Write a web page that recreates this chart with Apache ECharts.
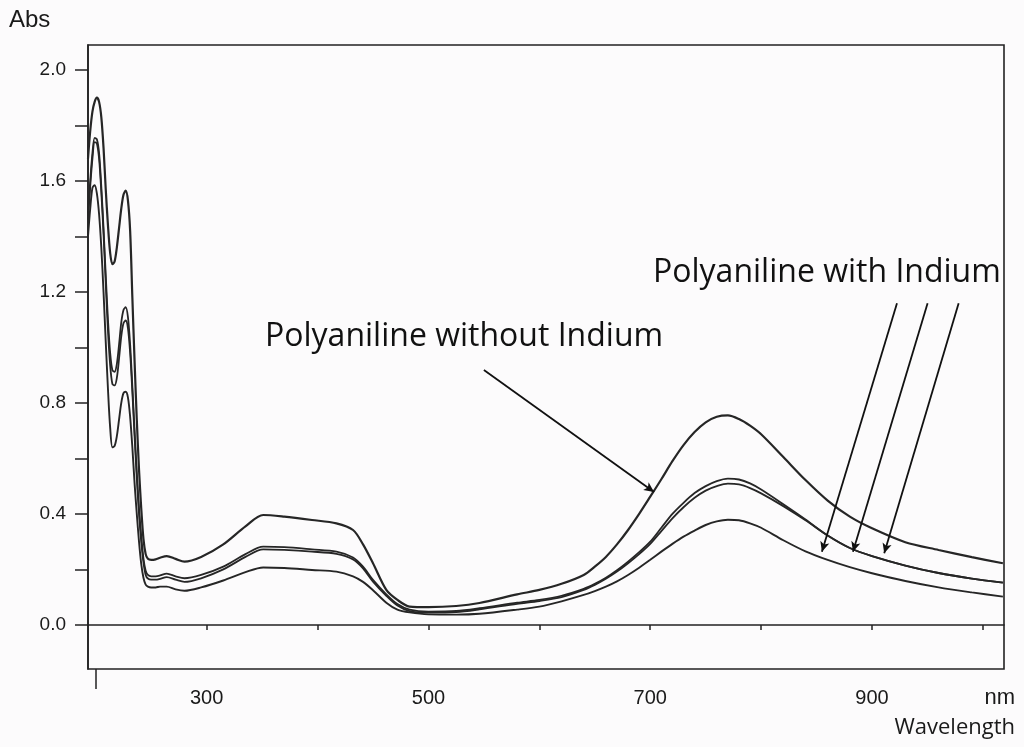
<!DOCTYPE html>
<html>
<head>
<meta charset="utf-8">
<script src="https://cdn.jsdelivr.net/npm/echarts@6/dist/echarts.min.js"></script>
<style>
html,body{margin:0;padding:0;background:#fcfbfc;}
#c{width:1024px;height:747px;}
</style>
</head>
<body>
<div id="c"></div>
<script>
// Wavelength (nm) sample points
const wavelength = [193,195,197,199,201,203,205,207,209,211,213,215,217,219,221,223,225,227,229,231,233,235,237,239,241,243,245,247,250,254,258,264,272,280,295,315,335,351,370,395,417,432,441,450,462,472,483,500,525,546,580,600,620,640,650,660,670,680,690,700,710,720,730,740,750,760,770,780,790,800,820,840,860,880,900,930,960,990,1018];

// Absorbance curves
const seriesA = [1.68,1.78,1.85,1.885,1.90,1.885,1.83,1.72,1.57,1.44,1.34,1.30,1.31,1.36,1.43,1.50,1.55,1.565,1.53,1.42,1.18,0.95,0.74,0.56,0.42,0.31,0.255,0.238,0.234,0.236,0.242,0.248,0.238,0.228,
  0.245,0.29,0.355,0.396,0.39,0.378,0.366,0.342,0.29,0.222,0.126,0.09,0.066,0.064,0.068,0.079,0.11,
  0.126,0.148,0.18,0.21,0.245,0.29,0.342,0.40,0.462,0.525,0.59,0.648,0.695,0.73,0.75,0.755,0.742,0.718,0.687,0.605,0.522,0.448,0.39,0.348,0.298,0.27,0.244,0.222];
const seriesB = [1.48,1.60,1.70,1.755,1.75,1.70,1.58,1.43,1.26,1.10,0.98,0.918,0.912,0.94,1.01,1.09,1.135,1.145,1.11,1.01,0.86,0.70,0.55,0.42,0.32,0.24,0.195,0.18,0.175,0.175,0.178,0.185,0.175,0.168,
  0.18,0.21,0.255,0.282,0.28,0.272,0.264,0.243,0.21,0.162,0.11,0.075,0.055,0.048,0.05,0.06,0.08,
  0.09,0.105,0.13,0.148,0.17,0.197,0.228,0.262,0.30,0.35,0.40,0.44,0.475,0.50,0.518,0.527,0.524,0.51,0.488,0.435,0.38,0.322,0.277,0.248,0.214,0.187,0.167,0.152];
const seriesC = [1.46,1.58,1.68,1.74,1.735,1.68,1.56,1.41,1.23,1.06,0.935,0.868,0.863,0.89,0.96,1.04,1.087,1.097,1.07,0.98,0.84,0.68,0.53,0.40,0.30,0.225,0.18,0.167,0.163,0.163,0.166,0.172,0.163,0.155,
  0.168,0.20,0.245,0.272,0.27,0.264,0.256,0.236,0.204,0.156,0.105,0.07,0.05,0.044,0.046,0.056,0.076,
  0.086,0.1,0.126,0.144,0.166,0.192,0.222,0.255,0.292,0.338,0.384,0.424,0.458,0.484,0.50,0.509,0.506,0.493,0.474,0.428,0.377,0.322,0.277,0.248,0.214,0.187,0.167,0.152];
const seriesD = [1.40,1.50,1.575,1.585,1.555,1.48,1.36,1.20,1.02,0.85,0.71,0.64,0.645,0.68,0.74,0.80,0.835,0.84,0.82,0.75,0.64,0.51,0.40,0.30,0.22,0.17,0.145,0.138,0.135,0.135,0.138,0.138,0.128,0.123,
  0.135,0.16,0.19,0.207,0.205,0.198,0.192,0.175,0.155,0.125,0.08,0.055,0.045,0.038,0.037,0.04,0.055,
  0.066,0.085,0.108,0.122,0.138,0.157,0.18,0.206,0.235,0.264,0.292,0.318,0.34,0.36,0.373,0.379,0.377,0.366,0.35,0.305,0.265,0.234,0.208,0.186,0.158,0.135,0.117,0.102];

// Axis ticks / labels
const yTickValues = [0,0.2,0.4,0.6,0.8,1.0,1.2,1.4,1.6,1.8,2.0];
const yLabelValues = [0,0.4,0.8,1.2,1.6,2.0];
const xTickValues = [300,400,500,600,700,800,900,1000];
const xLabelValues = [300,500,700,900];
const xLongTick = [200];

// Annotation arrows in data coordinates [from, to]
const arrowWithout = [[550,0.919],[703.4,0.479]];
const arrowsWith = [
  [[922.5,1.159],[854.8,0.264]],
  [[950.1,1.159],[882.8,0.264]],
  [[978.1,1.159],[911.0,0.258]]
];

const chart = echarts.init(document.getElementById('c'), null, {renderer:'canvas'});
const lineColor = '#262626';
function mk(vals, w){
  return {
    type:'line', showSymbol:false, symbol:'none', smooth:0.3,
    data: wavelength.map((x,i)=>[x, vals[i]]),
    lineStyle:{color:lineColor, width:w},
    animation:false, silent:true
  };
}
const sA = mk(seriesA, 2.2);
const allArrows = [arrowWithout].concat(arrowsWith).map(a=>[{coord:a[0]},{coord:a[1]}]);
sA.markLine = {
  silent:true, animation:false,
  symbol:['none','arrow'], symbolSize:[7,10],
  label:{show:false},
  lineStyle:{color:'#111', width:1.8, type:'solid'},
  data: allArrows
};

const X_MIN = 193, X_MAX = 1019, Y_MIN = -0.159, Y_MAX = 2.09;

chart.setOption({
  backgroundColor:'#fcfbfc',
  animation:false,
  grid:{left:88, right:20, top:45, bottom:78, show:true, borderColor:'#222', borderWidth:1.6, backgroundColor:'transparent'},
  xAxis:[{
    type:'value', min:X_MIN, max:X_MAX,
    axisLine:{show:true, lineStyle:{color:'#222', width:1.6}},
    axisTick:{show:true, customValues:xTickValues, length:5, lineStyle:{color:'#222', width:1.5}},
    axisLabel:{show:true, customValues:xLabelValues, margin:19, color:'#1a1a1a', fontSize:20, fontFamily:"'Liberation Sans Narrow','Liberation Sans',sans-serif"},
    splitLine:{show:false}
  },{
    type:'value', min:X_MIN, max:X_MAX, position:'bottom',
    axisLine:{show:false},
    axisTick:{show:true, customValues:xLongTick, length:20, lineStyle:{color:'#222', width:1.5}},
    axisLabel:{show:false},
    splitLine:{show:false}
  }],
  yAxis:{
    type:'value', min:Y_MIN, max:Y_MAX,
    axisLine:{show:true, lineStyle:{color:'#222', width:1.6}},
    axisTick:{show:true, customValues:yTickValues, length:13, lineStyle:{color:'#222', width:1.5}},
    axisLabel:{show:true, customValues:yLabelValues, margin:22, color:'#1a1a1a', fontSize:19, fontFamily:"'Liberation Sans',sans-serif", formatter:v=>v.toFixed(1)},
    splitLine:{show:false}
  },
  series:[sA, mk(seriesB,1.8), mk(seriesC,1.8), mk(seriesD,1.9)],
  graphic:[
    {type:'text', left:9, top:8, style:{text:'Abs', fontSize:24, fontFamily:"'Liberation Sans',sans-serif", fill:'#1a1a1a'}},
    {type:'text', x:1015, y:698, style:{text:'nm', fontSize:22, fontFamily:"'Liberation Sans',sans-serif", fill:'#1a1a1a', align:'right', verticalAlign:'middle'}},
    {type:'text', x:1015, y:728, style:{text:'Wavelength', fontSize:22, fontFamily:"'Open Sans',sans-serif", fill:'#1a1a1a', align:'right', verticalAlign:'middle'}},
    {type:'text', x:265, y:337, style:{text:'Polyaniline without Indium', fontSize:32, fontFamily:"'Open Sans',sans-serif", fill:'#111', align:'left', verticalAlign:'middle'}},
    {type:'text', x:653, y:273, style:{text:'Polyaniline with Indium', fontSize:32, fontFamily:"'Open Sans',sans-serif", fill:'#111', align:'left', verticalAlign:'middle'}}
  ]
});
</script>
</body>
</html>
